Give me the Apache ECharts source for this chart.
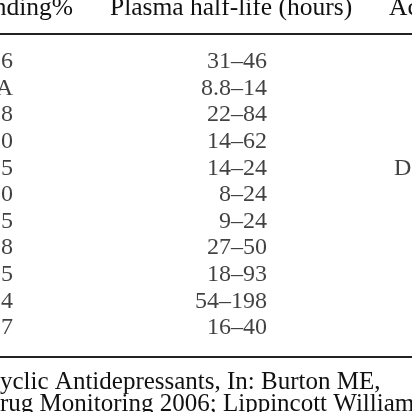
<!DOCTYPE html>
<html><head><meta charset="utf-8">
<script src="https://cdn.jsdelivr.net/npm/echarts@6/dist/echarts.min.js"></script>
<style>html,body{margin:0;padding:0;background:#fff}#c{width:412px;height:412px}</style>
</head><body><div id="c"></div>
<script>
const rows = ['1','2','3','4','5','6','7','8','9','10','11'];
const binding = ['90–96','NA','90–98','90–90','90–95','85–90','90–95','92–98','90–95','90–94','90–97'];
const halfLife = ['31–46','8.8–14','22–84','14–62','14–24','8–24','9–24','27–50','18–93','54–198','16–40'];
const active = ['','','','','D','','','','','',''];
const headers = ['Protein binding%','Plasma half-life (hours)','Ac'];
const footer = ['yclic Antidepressants, In: Burton ME,','rug Monitoring 2006; Lippincott William'];

const FONT = '"Liberation Serif", "DejaVu Serif", serif';
const chart = echarts.init(document.getElementById('c'));
const col = (vals, x, align) => ({
  type: 'scatter', symbolSize: 0, silent: true,
  data: vals.map((v, i) => ({ value: [x, i], name: v })),
  label: { show: true, position: 'inside', formatter: p => p.name, align: align,
    fontFamily: FONT, fontSize: 24, color: '#111' }
});
chart.setOption({
  animation: false,
  grid: { left: 0, right: 0, top: 48.7, height: 292.6 },
  xAxis: { type: 'value', min: 0, max: 412, show: false },
  yAxis: { type: 'category', data: rows, inverse: true, show: false },
  series: [col(binding, 13, 'right'), col(halfLife, 267, 'right'), col(active, 394, 'left')],
  graphic: [
    { type: 'text', x: 73, y: -5, style: { text: headers[0], font: '25.5px ' + FONT, fill: '#111', align: 'right' } },
    { type: 'text', x: 110, y: -5, style: { text: headers[1], font: '25.5px ' + FONT, fill: '#111' } },
    { type: 'text', x: 389, y: -5, style: { text: headers[2], font: '25.5px ' + FONT, fill: '#111' } },
    { type: 'rect', shape: { x: 0, y: 33, width: 412, height: 2 }, style: { fill: '#222' } },
    { type: 'rect', shape: { x: 0, y: 356, width: 412, height: 2 }, style: { fill: '#222' } },
    { type: 'text', x: 0, y: 370, style: { text: footer[0], font: '25px ' + FONT, fill: '#111' } },
    { type: 'text', x: 0, y: 392, style: { text: footer[1], font: '25px ' + FONT, fill: '#111' } }
  ]
});
</script></body></html>
